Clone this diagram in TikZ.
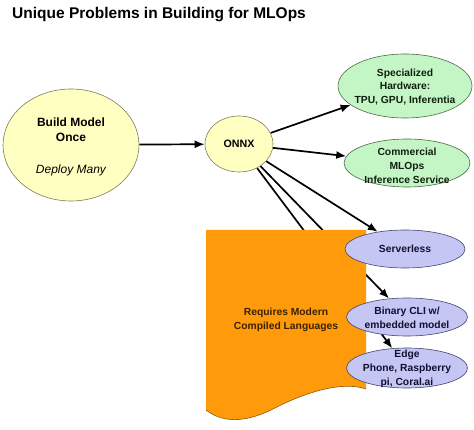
\documentclass[tikz,border=0pt]{standalone}
\usepackage{fontspec}
\setmainfont{Liberation Sans}
\usetikzlibrary{shapes.geometric,arrows.meta}
\definecolor{yellowfill}{HTML}{FFFFC2}
\definecolor{yellowline}{HTML}{7A7A5A}
\definecolor{greenfill}{HTML}{C4F5C4}
\definecolor{greenline}{HTML}{4A6A4A}
\definecolor{bluefill}{HTML}{C6C6F5}
\definecolor{blueline}{HTML}{45456E}
\definecolor{orangefill}{HTML}{FF9A0A}
\definecolor{orangeline}{HTML}{8A5A10}
\definecolor{browntext}{HTML}{3A2200}
\definecolor{navytext}{HTML}{101030}
\definecolor{greentext}{HTML}{102010}
\tikzset{
  ell/.style={ellipse, inner sep=0pt, line width=0.6pt},
  yellowell/.style={ell, fill=yellowfill, draw=yellowline},
  greenell/.style={ell, fill=greenfill, draw=greenline},
  blueell/.style={ell, fill=bluefill, draw=blueline},
  txt/.style={align=center, font=\bfseries\fontsize{10.3}{13.8}\selectfont, inner sep=0pt},
  arr/.style={line width=1.7pt, -{Latex[length=10pt,width=8pt]}},
}
\begin{document}
\begin{tikzpicture}[x=1pt,y=-1pt]
\useasboundingbox (0,0) rectangle (474,430);
% title
\node[anchor=west, font=\bfseries\fontsize{15.5}{18}\selectfont, inner sep=0pt] (title) at (12,15) {Unique Problems in Building for MLOps};
% node positions (shapes drawn later, on top of connectors)
\coordinate (buildc) at (71,145);
\coordinate (onnxc) at (239,144);
\coordinate (hwc) at (405,86);
\coordinate (commc) at (407,163);
\coordinate (srvc) at (405,249);
\coordinate (binc) at (407,317);
\coordinate (edgec) at (407,368);
% invisible outlines used as connector targets
\begin{scope}[draw opacity=0, fill opacity=0]
\node[ell, minimum width=136pt, minimum height=112pt] (build) at (buildc) {};
\node[ell, minimum width=68pt, minimum height=56pt] (onnx) at (onnxc) {};
\node[ell, minimum width=134pt, minimum height=64pt] (hw) at (hwc) {};
\node[ell, minimum width=126pt, minimum height=48pt] (comm) at (commc) {};
\node[ell, minimum width=120pt, minimum height=38pt] (srv) at (srvc) {};
\node[ell, minimum width=121pt, minimum height=38pt] (bin) at (binc) {};
\node[ell, minimum width=121pt, minimum height=40pt] (edge) at (edgec) {};
\end{scope}
% connectors
\draw[arr] (build) -- (onnx);
\draw[arr] (onnx) -- (hw);
\draw[arr] (onnx) -- (comm);
\draw[arr] (onnx) -- (srv);
\draw[arr] (onnx) -- (bin);
\draw[arr] (onnx) -- (edge);
% orange document shape (hides part of the connectors)
\path[fill=orangefill] (206,230) -- (366,230) -- (366,389) .. controls (340,380) and (300,395) .. (275,408) .. controls (250,421) and (225,425) .. (206,410) -- cycle;
\draw[orangeline, line width=0.6pt] (366,389) .. controls (340,380) and (300,395) .. (275,408) .. controls (250,421) and (225,425) .. (206,410);
\node[txt, text=browntext] (req) at (286,320) {Requires Modern\\Compiled Languages};
% visible ellipses
\node[yellowell, minimum width=136pt, minimum height=112pt] (buildshape) at (buildc) {};
\node[yellowell, minimum width=68pt, minimum height=56pt] (onnxshape) at (onnxc) {};
\node[greenell, minimum width=134pt, minimum height=64pt] (hwshape) at (hwc) {};
\node[greenell, minimum width=126pt, minimum height=48pt] (commshape) at (commc) {};
\node[blueell, minimum width=120pt, minimum height=38pt] (srvshape) at (srvc) {};
\node[blueell, minimum width=121pt, minimum height=38pt] (binshape) at (binc) {};
\node[blueell, minimum width=121pt, minimum height=40pt] (edgeshape) at (edgec) {};
% texts
\node[txt, font=\bfseries\fontsize{12}{15}\selectfont] (buildtxt) at (71,130) {Build Model\\Once};
\node[inner sep=0pt, font=\itshape\fontsize{12}{14}\selectfont] (deploy) at (71,170) {Deploy Many};
\node[txt, font=\bfseries\fontsize{10.7}{12}\selectfont] (onnxtxt) at (onnxc) {ONNX};
\node[txt, text=greentext] (hwtxt) at (405,87) {Specialized\\Hardware:\\TPU, GPU, Inferentia};
\node[txt, text=greentext] (commtxt) at (407,166) {Commercial\\MLOps\\Inference Service};
\node[txt, text=navytext] (srvtxt) at (srvc) {Serverless};
\node[txt, text=navytext] (bintxt) at (407,318) {Binary CLI w/\\embedded model};
\node[txt, text=navytext] (edgetxt) at (407,369) {Edge\\Phone, Raspberry\\pi, Coral.ai};
\end{tikzpicture}
\end{document}
